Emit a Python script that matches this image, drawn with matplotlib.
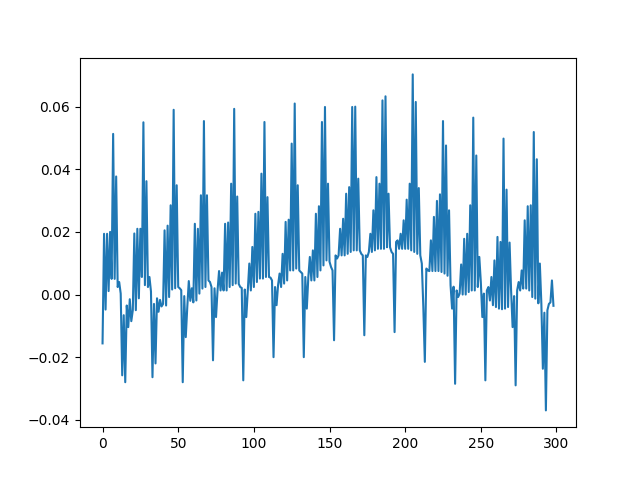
import numpy as np
import matplotlib
matplotlib.use("Agg")
import matplotlib.pyplot as plt

# values, one row per ~20-sample cycle
signal = [
    -0.0156, 0.0194, -0.0048, 0.0194, 0.0011, 0.0200, 0.0050, 0.0513, 0.0050, 0.0377,
    0.0024, 0.0040, 0.0003, -0.0258, -0.0066, -0.0280, -0.0035, -0.0104, -0.0015, -0.0085,
    -0.0050, 0.0195, -0.0050, 0.0210, -0.0012, 0.0210, 0.0056, 0.0550, 0.0030, 0.0362,
    0.0024, 0.0056, 0.0010, -0.0264, -0.0030, -0.0220, -0.0012, -0.0055, -0.0017, -0.0038,
    -0.0030, 0.0205, -0.0035, 0.0220, -0.0008, 0.0285, 0.0016, 0.0590, 0.0020, 0.0349,
    0.0024, 0.0020, 0.0014, -0.0280, -0.0005, -0.0136, -0.0040, 0.0043, -0.0020, 0.0020,
    -0.0025, 0.0226, -0.0019, 0.0210, 0.0003, 0.0317, 0.0019, 0.0554, 0.0024, 0.0317,
    0.0045, 0.0040, 0.0024, -0.0210, 0.0020, -0.0072, 0.0013, 0.0075, 0.0013, 0.0070,
    0.0013, 0.0226, 0.0013, 0.0230, 0.0024, 0.0354, 0.0030, 0.0593, 0.0035, 0.0313,
    0.0034, 0.0024, 0.0021, -0.0274, 0.0016, -0.0072, 0.0013, 0.0099, 0.0013, 0.0152,
    0.0024, 0.0258, 0.0040, 0.0264, 0.0051, 0.0386, 0.0051, 0.0551, 0.0056, 0.0311,
    0.0056, 0.0054, 0.0045, -0.0200, 0.0024, -0.0034, 0.0030, 0.0067, 0.0024, 0.0130,
    0.0035, 0.0232, 0.0045, 0.0239, 0.0077, 0.0482, 0.0077, 0.0610, 0.0083, 0.0349,
    0.0077, 0.0072, 0.0067, -0.0200, 0.0056, -0.0045, 0.0056, 0.0120, 0.0045, 0.0141,
    0.0045, 0.0258, 0.0056, 0.0282, 0.0077, 0.0551, 0.0093, 0.0599, 0.0109, 0.0354,
    0.0105, 0.0088, 0.0077, -0.0146, 0.0125, 0.0115, 0.0125, 0.0210, 0.0125, 0.0242,
    0.0125, 0.0322, 0.0130, 0.0343, 0.0136, 0.0599, 0.0141, 0.0600, 0.0141, 0.0370,
    0.0141, 0.0130, 0.0125, -0.0130, 0.0125, 0.0120, 0.0136, 0.0194, 0.0136, 0.0269,
    0.0141, 0.0375, 0.0146, 0.0354, 0.0146, 0.0620, 0.0146, 0.0633, 0.0151, 0.0322,
    0.0151, 0.0136, 0.0130, -0.0120, 0.0168, 0.0173, 0.0146, 0.0194, 0.0146, 0.0237,
    0.0146, 0.0303, 0.0146, 0.0354, 0.0141, 0.0703, 0.0136, 0.0615, 0.0130, 0.0340,
    0.0125, 0.0099, -0.0040, -0.0215, 0.0083, 0.0077, 0.0075, 0.0173, 0.0075, 0.0248,
    0.0075, 0.0299, 0.0075, 0.0320, 0.0072, 0.0554, 0.0067, 0.0476, 0.0060, 0.0269,
    0.0030, -0.0045, 0.0025, -0.0285, 0.0013, -0.0008, 0.0003, 0.0096, 0.0000, 0.0178,
    0.0000, 0.0194, 0.0008, 0.0285, 0.0013, 0.0565, 0.0013, 0.0444, 0.0024, 0.0120,
    0.0040, -0.0072, 0.0003, -0.0274, 0.0013, 0.0024, -0.0019, 0.0056, -0.0034, 0.0109,
    -0.0040, 0.0184, -0.0045, 0.0168, -0.0047, 0.0498, -0.0045, 0.0335, -0.0040, 0.0166,
    0.0013, -0.0104, -0.0005, -0.0290, 0.0013, 0.0040, 0.0013, 0.0077, 0.0019, 0.0237,
    0.0019, 0.0282, 0.0013, 0.0285, -0.0008, 0.0519, -0.0013, 0.0432, -0.0028, 0.0099,
    -0.0028, -0.0237, -0.0058, -0.0370, -0.0050, -0.0030, -0.0025, 0.0045, -0.0036,
]

plt.figure(figsize=(6.4, 4.8), dpi=100)
plt.plot(signal)
plt.savefig("out.png")
